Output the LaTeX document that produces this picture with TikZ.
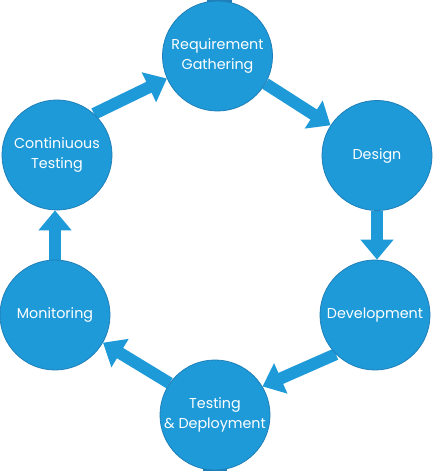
\documentclass[tikz,border=0pt]{standalone}
\usepackage{fontspec}
\setmainfont{Poppins}
\usetikzlibrary{arrows.meta,backgrounds}
\definecolor{cblue}{HTML}{1E9AD8}
\definecolor{cedge}{HTML}{1F7FB8}
\tikzset{
  stage/.style={circle, fill=cblue, draw=cedge, line width=0.8pt, minimum size=110pt, inner sep=0pt,
    text=white, align=center, font=\fontsize{14.3}{20}\selectfont},
  flow/.style={draw=cblue, line width=12pt, -{Triangle[length=20pt,width=32pt]}},
  stub/.style={fill=cedge, draw=none}
}
\begin{document}
\begin{tikzpicture}[x=1pt,y=1pt]
\useasboundingbox (0,0) rectangle (438,471);
\node[stage] (req) at (217.5,415) {Requirement\\Gathering};
\node[stage] (des) at (377,315.5) {Design};
\node[stage] (dev) at (375,156) {Development};
\node[stage] (tst) at (215,56) {Testing\\\& Deployment};
\node[stage] (mon) at (55,156) {Monitoring};
\node[stage] (con) at (57,316) {Continiuous\\Testing};
\begin{pgfonlayer}{background}
  \fill[stub] (207,466) rectangle (232,471);
  \fill[stub] (203,0) rectangle (227,8);
  \draw[flow] (con.48) -- (req.204);
  \draw[flow] (req.-30) -- (des.147);
  \draw[flow] (des.south) -- (des.south |- dev.north);
  \draw[flow] (dev.225) -- (tst.31);
  \draw[flow] (tst.145) -- (mon.-30);
  \draw[flow] (mon.north) -- (mon.north |- con.south);
\end{pgfonlayer}
\end{tikzpicture}
\end{document}
